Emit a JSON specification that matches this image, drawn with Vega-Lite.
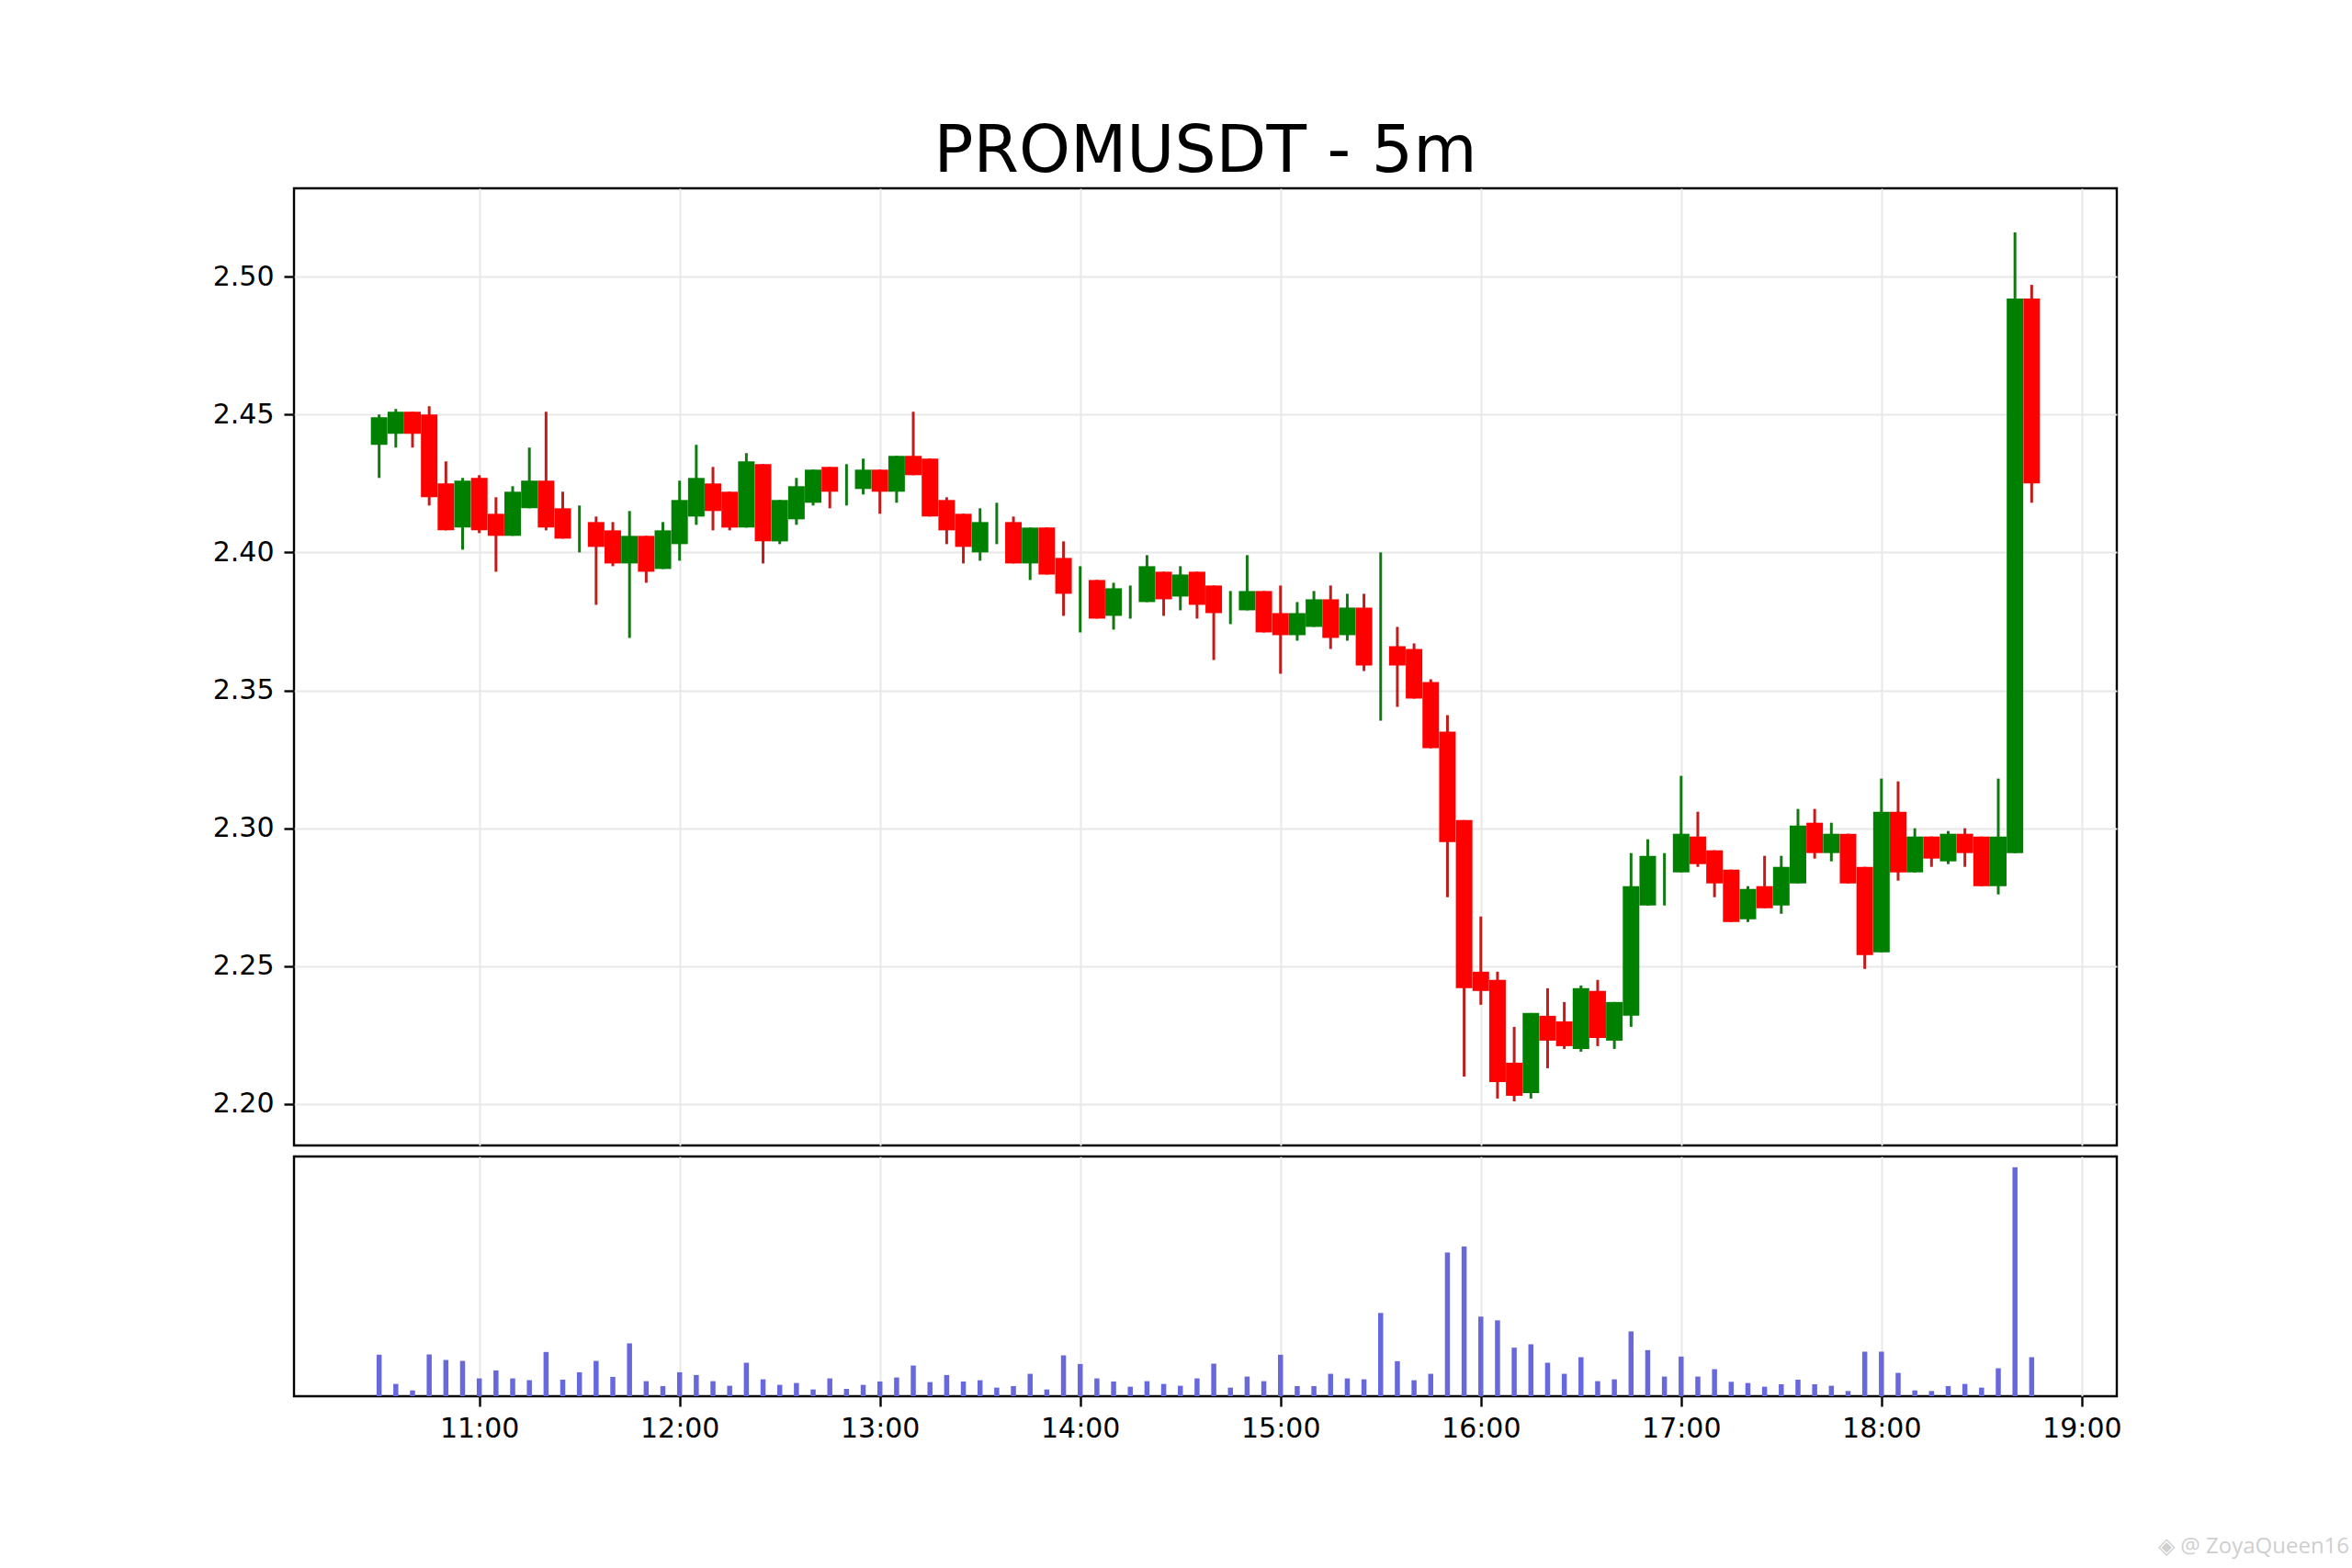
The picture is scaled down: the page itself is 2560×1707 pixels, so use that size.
{
  "$schema": "https://vega.github.io/schema/vega-lite/v6.json",
  "background": "white",
  "padding": {"left": 230, "top": 128, "right": 8, "bottom": 8},
  "spacing": 8,
  "datasets": {
    "candles": [
      {"time":"2024-01-01T10:30:00","open":2.439,"high":2.450,"low":2.427,"close":2.449,"volume":135},
      {"time":"2024-01-01T10:35:00","open":2.443,"high":2.452,"low":2.438,"close":2.451,"volume":40},
      {"time":"2024-01-01T10:40:00","open":2.451,"high":2.451,"low":2.438,"close":2.443,"volume":19},
      {"time":"2024-01-01T10:45:00","open":2.450,"high":2.453,"low":2.417,"close":2.420,"volume":136},
      {"time":"2024-01-01T10:50:00","open":2.425,"high":2.433,"low":2.408,"close":2.408,"volume":118},
      {"time":"2024-01-01T10:55:00","open":2.409,"high":2.427,"low":2.401,"close":2.426,"volume":115},
      {"time":"2024-01-01T11:00:00","open":2.427,"high":2.428,"low":2.407,"close":2.408,"volume":58},
      {"time":"2024-01-01T11:05:00","open":2.414,"high":2.420,"low":2.393,"close":2.406,"volume":84},
      {"time":"2024-01-01T11:10:00","open":2.406,"high":2.424,"low":2.406,"close":2.422,"volume":58},
      {"time":"2024-01-01T11:15:00","open":2.416,"high":2.438,"low":2.416,"close":2.426,"volume":52},
      {"time":"2024-01-01T11:20:00","open":2.426,"high":2.451,"low":2.408,"close":2.409,"volume":144},
      {"time":"2024-01-01T11:25:00","open":2.416,"high":2.422,"low":2.405,"close":2.405,"volume":54},
      {"time":"2024-01-01T11:30:00","open":2.408,"high":2.417,"low":2.400,"close":2.408,"volume":78},
      {"time":"2024-01-01T11:35:00","open":2.411,"high":2.413,"low":2.381,"close":2.402,"volume":115},
      {"time":"2024-01-01T11:40:00","open":2.408,"high":2.411,"low":2.395,"close":2.396,"volume":63},
      {"time":"2024-01-01T11:45:00","open":2.396,"high":2.415,"low":2.369,"close":2.406,"volume":172},
      {"time":"2024-01-01T11:50:00","open":2.406,"high":2.406,"low":2.389,"close":2.393,"volume":49},
      {"time":"2024-01-01T11:55:00","open":2.394,"high":2.411,"low":2.394,"close":2.408,"volume":33},
      {"time":"2024-01-01T12:00:00","open":2.403,"high":2.426,"low":2.397,"close":2.419,"volume":78},
      {"time":"2024-01-01T12:05:00","open":2.413,"high":2.439,"low":2.410,"close":2.427,"volume":69},
      {"time":"2024-01-01T12:10:00","open":2.425,"high":2.431,"low":2.408,"close":2.415,"volume":49},
      {"time":"2024-01-01T12:15:00","open":2.422,"high":2.422,"low":2.408,"close":2.409,"volume":34},
      {"time":"2024-01-01T12:20:00","open":2.409,"high":2.436,"low":2.409,"close":2.433,"volume":109},
      {"time":"2024-01-01T12:25:00","open":2.432,"high":2.432,"low":2.396,"close":2.404,"volume":55},
      {"time":"2024-01-01T12:30:00","open":2.404,"high":2.419,"low":2.403,"close":2.419,"volume":37},
      {"time":"2024-01-01T12:35:00","open":2.412,"high":2.427,"low":2.410,"close":2.424,"volume":43},
      {"time":"2024-01-01T12:40:00","open":2.418,"high":2.430,"low":2.417,"close":2.430,"volume":22},
      {"time":"2024-01-01T12:45:00","open":2.431,"high":2.431,"low":2.416,"close":2.422,"volume":58},
      {"time":"2024-01-01T12:50:00","open":2.424,"high":2.432,"low":2.417,"close":2.424,"volume":24},
      {"time":"2024-01-01T12:55:00","open":2.423,"high":2.434,"low":2.421,"close":2.430,"volume":37},
      {"time":"2024-01-01T13:00:00","open":2.430,"high":2.430,"low":2.414,"close":2.422,"volume":48},
      {"time":"2024-01-01T13:05:00","open":2.422,"high":2.435,"low":2.418,"close":2.435,"volume":61},
      {"time":"2024-01-01T13:10:00","open":2.435,"high":2.451,"low":2.428,"close":2.428,"volume":100},
      {"time":"2024-01-01T13:15:00","open":2.434,"high":2.434,"low":2.413,"close":2.413,"volume":46},
      {"time":"2024-01-01T13:20:00","open":2.419,"high":2.420,"low":2.403,"close":2.408,"volume":69},
      {"time":"2024-01-01T13:25:00","open":2.414,"high":2.414,"low":2.396,"close":2.402,"volume":48},
      {"time":"2024-01-01T13:30:00","open":2.400,"high":2.416,"low":2.397,"close":2.411,"volume":52},
      {"time":"2024-01-01T13:35:00","open":2.410,"high":2.418,"low":2.403,"close":2.410,"volume":28},
      {"time":"2024-01-01T13:40:00","open":2.411,"high":2.413,"low":2.396,"close":2.396,"volume":33},
      {"time":"2024-01-01T13:45:00","open":2.396,"high":2.409,"low":2.390,"close":2.409,"volume":73},
      {"time":"2024-01-01T13:50:00","open":2.409,"high":2.409,"low":2.392,"close":2.392,"volume":22},
      {"time":"2024-01-01T13:55:00","open":2.398,"high":2.404,"low":2.377,"close":2.385,"volume":133},
      {"time":"2024-01-01T14:00:00","open":2.385,"high":2.395,"low":2.371,"close":2.385,"volume":105},
      {"time":"2024-01-01T14:05:00","open":2.390,"high":2.390,"low":2.376,"close":2.376,"volume":58},
      {"time":"2024-01-01T14:10:00","open":2.377,"high":2.389,"low":2.372,"close":2.387,"volume":48},
      {"time":"2024-01-01T14:15:00","open":2.382,"high":2.388,"low":2.376,"close":2.382,"volume":31},
      {"time":"2024-01-01T14:20:00","open":2.382,"high":2.399,"low":2.382,"close":2.395,"volume":49},
      {"time":"2024-01-01T14:25:00","open":2.393,"high":2.393,"low":2.377,"close":2.383,"volume":40},
      {"time":"2024-01-01T14:30:00","open":2.384,"high":2.395,"low":2.379,"close":2.392,"volume":34},
      {"time":"2024-01-01T14:35:00","open":2.393,"high":2.393,"low":2.376,"close":2.381,"volume":58},
      {"time":"2024-01-01T14:40:00","open":2.388,"high":2.388,"low":2.361,"close":2.378,"volume":106},
      {"time":"2024-01-01T14:45:00","open":2.380,"high":2.386,"low":2.374,"close":2.380,"volume":28},
      {"time":"2024-01-01T14:50:00","open":2.379,"high":2.399,"low":2.379,"close":2.386,"volume":64},
      {"time":"2024-01-01T14:55:00","open":2.386,"high":2.386,"low":2.371,"close":2.371,"volume":49},
      {"time":"2024-01-01T15:00:00","open":2.378,"high":2.388,"low":2.356,"close":2.370,"volume":135},
      {"time":"2024-01-01T15:05:00","open":2.370,"high":2.382,"low":2.368,"close":2.378,"volume":33},
      {"time":"2024-01-01T15:10:00","open":2.373,"high":2.386,"low":2.373,"close":2.383,"volume":33},
      {"time":"2024-01-01T15:15:00","open":2.383,"high":2.388,"low":2.365,"close":2.369,"volume":73},
      {"time":"2024-01-01T15:20:00","open":2.370,"high":2.385,"low":2.368,"close":2.380,"volume":58},
      {"time":"2024-01-01T15:25:00","open":2.380,"high":2.385,"low":2.357,"close":2.359,"volume":55},
      {"time":"2024-01-01T15:30:00","open":2.370,"high":2.400,"low":2.339,"close":2.370,"volume":271},
      {"time":"2024-01-01T15:35:00","open":2.366,"high":2.373,"low":2.344,"close":2.359,"volume":114},
      {"time":"2024-01-01T15:40:00","open":2.365,"high":2.367,"low":2.347,"close":2.347,"volume":52},
      {"time":"2024-01-01T15:45:00","open":2.353,"high":2.354,"low":2.329,"close":2.329,"volume":73},
      {"time":"2024-01-01T15:50:00","open":2.335,"high":2.341,"low":2.275,"close":2.295,"volume":468},
      {"time":"2024-01-01T15:55:00","open":2.303,"high":2.303,"low":2.210,"close":2.242,"volume":487},
      {"time":"2024-01-01T16:00:00","open":2.248,"high":2.268,"low":2.236,"close":2.241,"volume":259},
      {"time":"2024-01-01T16:05:00","open":2.245,"high":2.248,"low":2.202,"close":2.208,"volume":247},
      {"time":"2024-01-01T16:10:00","open":2.215,"high":2.228,"low":2.201,"close":2.203,"volume":158},
      {"time":"2024-01-01T16:15:00","open":2.204,"high":2.233,"low":2.202,"close":2.233,"volume":169},
      {"time":"2024-01-01T16:20:00","open":2.232,"high":2.242,"low":2.213,"close":2.223,"volume":109},
      {"time":"2024-01-01T16:25:00","open":2.230,"high":2.237,"low":2.220,"close":2.221,"volume":73},
      {"time":"2024-01-01T16:30:00","open":2.220,"high":2.243,"low":2.219,"close":2.242,"volume":127},
      {"time":"2024-01-01T16:35:00","open":2.241,"high":2.245,"low":2.221,"close":2.224,"volume":49},
      {"time":"2024-01-01T16:40:00","open":2.223,"high":2.237,"low":2.220,"close":2.237,"volume":55},
      {"time":"2024-01-01T16:45:00","open":2.232,"high":2.291,"low":2.228,"close":2.279,"volume":211},
      {"time":"2024-01-01T16:50:00","open":2.272,"high":2.296,"low":2.272,"close":2.290,"volume":150},
      {"time":"2024-01-01T16:55:00","open":2.281,"high":2.291,"low":2.272,"close":2.281,"volume":64},
      {"time":"2024-01-01T17:00:00","open":2.284,"high":2.319,"low":2.284,"close":2.298,"volume":129},
      {"time":"2024-01-01T17:05:00","open":2.297,"high":2.306,"low":2.286,"close":2.287,"volume":64},
      {"time":"2024-01-01T17:10:00","open":2.292,"high":2.292,"low":2.275,"close":2.280,"volume":88},
      {"time":"2024-01-01T17:15:00","open":2.285,"high":2.285,"low":2.266,"close":2.266,"volume":47},
      {"time":"2024-01-01T17:20:00","open":2.267,"high":2.279,"low":2.266,"close":2.278,"volume":43},
      {"time":"2024-01-01T17:25:00","open":2.279,"high":2.290,"low":2.271,"close":2.271,"volume":31},
      {"time":"2024-01-01T17:30:00","open":2.272,"high":2.290,"low":2.269,"close":2.286,"volume":39},
      {"time":"2024-01-01T17:35:00","open":2.280,"high":2.307,"low":2.280,"close":2.301,"volume":54},
      {"time":"2024-01-01T17:40:00","open":2.302,"high":2.307,"low":2.289,"close":2.291,"volume":39},
      {"time":"2024-01-01T17:45:00","open":2.291,"high":2.302,"low":2.288,"close":2.298,"volume":34},
      {"time":"2024-01-01T17:50:00","open":2.298,"high":2.298,"low":2.280,"close":2.280,"volume":17},
      {"time":"2024-01-01T17:55:00","open":2.286,"high":2.286,"low":2.249,"close":2.254,"volume":145},
      {"time":"2024-01-01T18:00:00","open":2.255,"high":2.318,"low":2.255,"close":2.306,"volume":145},
      {"time":"2024-01-01T18:05:00","open":2.306,"high":2.317,"low":2.281,"close":2.284,"volume":76},
      {"time":"2024-01-01T18:10:00","open":2.284,"high":2.300,"low":2.284,"close":2.297,"volume":19},
      {"time":"2024-01-01T18:15:00","open":2.297,"high":2.297,"low":2.286,"close":2.289,"volume":17},
      {"time":"2024-01-01T18:20:00","open":2.288,"high":2.299,"low":2.287,"close":2.298,"volume":33},
      {"time":"2024-01-01T18:25:00","open":2.298,"high":2.300,"low":2.286,"close":2.291,"volume":40},
      {"time":"2024-01-01T18:30:00","open":2.297,"high":2.297,"low":2.279,"close":2.279,"volume":28},
      {"time":"2024-01-01T18:35:00","open":2.279,"high":2.318,"low":2.276,"close":2.297,"volume":91},
      {"time":"2024-01-01T18:40:00","open":2.291,"high":2.516,"low":2.291,"close":2.492,"volume":745},
      {"time":"2024-01-01T18:45:00","open":2.492,"high":2.497,"low":2.418,"close":2.425,"volume":127}
    ]
  },
  "vconcat": [
    {
      "data": {"name": "candles"},
      "width": 1984,
      "height": 1042,
      "title": {"text": "PROMUSDT - 5m", "font": "DejaVu Sans", "fontSize": 71.2, "fontWeight": "normal", "color": "black", "offset": 3, "anchor": "middle"},
      "layer": [
        {
          "mark": {"type": "rule", "strokeWidth": 3},
          "encoding": {
            "x": {
              "field": "time",
              "type": "temporal",
              "scale": {"domain": ["2024-01-01T10:04:30", "2024-01-01T19:10:30"], "nice": false, "padding": 0},
              "axis": {"title": null, "labels": false, "ticks": false, "values": ["2024-01-01T11:00:00", "2024-01-01T12:00:00", "2024-01-01T13:00:00", "2024-01-01T14:00:00", "2024-01-01T15:00:00", "2024-01-01T16:00:00", "2024-01-01T17:00:00", "2024-01-01T18:00:00", "2024-01-01T19:00:00"]}
            },
            "y": {
              "field": "low",
              "type": "quantitative",
              "scale": {"domain": [2.185, 2.532], "nice": false, "zero": false},
              "axis": {"title": null, "values": [2.2, 2.25, 2.3, 2.35, 2.4, 2.45, 2.5], "format": ".2f"}
            },
            "y2": {"field": "high"},
            "color": {"condition": {"test": "datum.close >= datum.open", "value": "#107a10"}, "value": "#c01c1c"}
          }
        },
        {
          "mark": {"type": "bar", "size": 18},
          "encoding": {
            "x": {"field": "time", "type": "temporal"},
            "y": {"field": "open", "type": "quantitative"},
            "y2": {"field": "close"},
            "color": {"condition": {"test": "datum.close >= datum.open", "value": "#008000"}, "value": "#ff0000"}
          }
        }
      ]
    },
    {
      "data": {"name": "candles"},
      "width": 1984,
      "height": 261,
      "title": {"text": "◈ @ ZoyaQueen16", "orient": "bottom", "anchor": "end", "font": "Open Sans", "fontSize": 24, "fontWeight": "normal", "color": "#cfcfcf", "offset": 102, "dx": 248},
      "mark": {"type": "bar", "size": 5.5, "color": "#6868dd"},
      "encoding": {
        "x": {
          "field": "time",
          "type": "temporal",
          "scale": {"domain": ["2024-01-01T10:04:30", "2024-01-01T19:10:30"], "nice": false, "padding": 0},
          "axis": {"title": null, "format": "%H:%M", "labelFlush": false, "labelOverlap": false, "labelPadding": 9, "values": ["2024-01-01T11:00:00", "2024-01-01T12:00:00", "2024-01-01T13:00:00", "2024-01-01T14:00:00", "2024-01-01T15:00:00", "2024-01-01T16:00:00", "2024-01-01T17:00:00", "2024-01-01T18:00:00", "2024-01-01T19:00:00"]}
        },
        "y": {"field": "volume", "type": "quantitative", "scale": {"domain": [0, 780], "nice": false}, "axis": null}
      }
    }
  ],
  "config": {
    "view": {"stroke": "black", "strokeWidth": 2.4},
    "axis": {
      "domain": false,
      "grid": true,
      "gridColor": "#e8e8e8",
      "gridWidth": 2,
      "ticks": true,
      "tickColor": "black",
      "tickWidth": 2.4,
      "tickSize": 11,
      "labelFont": "DejaVu Sans",
      "labelFontSize": 30,
      "labelColor": "black",
      "labelPadding": 11
    }
  }
}
